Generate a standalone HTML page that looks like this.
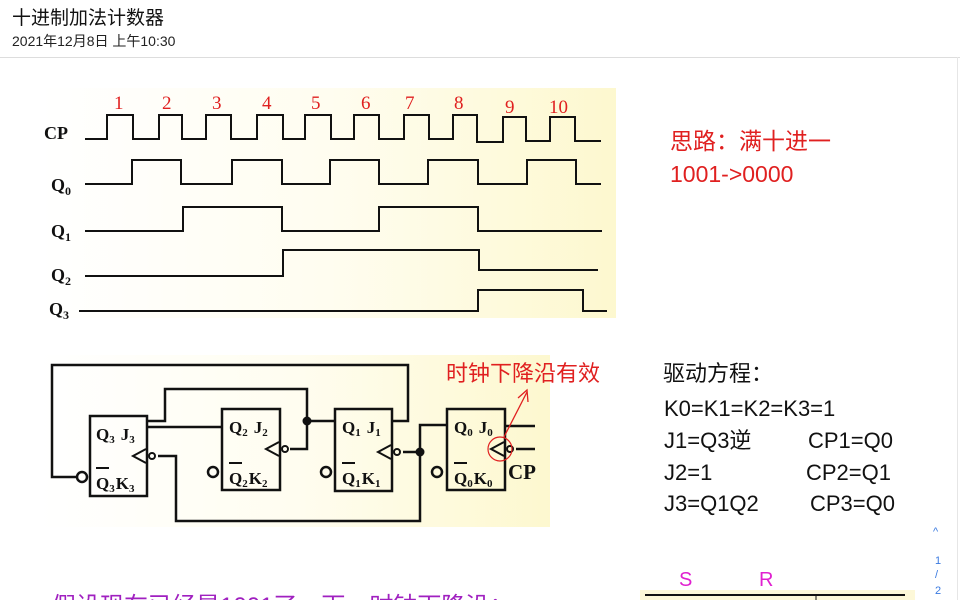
<!DOCTYPE html>
<html><head><meta charset="utf-8"><style>
html,body{margin:0;padding:0;background:#fff;width:960px;height:600px;overflow:hidden}
svg{display:block}
.cjk{font-family:"Liberation Sans","Noto Sans CJK SC",sans-serif}
.ser{font-family:"Liberation Serif","Noto Serif CJK SC",serif;font-weight:bold}
</style></head><body>
<svg width="960" height="600" viewBox="0 0 960 600" xmlns="http://www.w3.org/2000/svg">
<defs>
<linearGradient id="yg" x1="0" x2="1" y1="0" y2="0">
<stop offset="0" stop-color="#ffffff"/><stop offset="0.5" stop-color="#fffdf0"/><stop offset="1" stop-color="#fdf8cf"/>
</linearGradient>
</defs>
<text x="12" y="24" class="cjk" font-size="19" fill="#111">十进制加法计数器</text>
<text x="12" y="46" class="cjk" font-size="14" fill="#222">2021年12月8日 上午10:30</text>
<line x1="0" y1="57.5" x2="960" y2="57.5" stroke="#ddd"/>
<line x1="957.5" y1="57" x2="957.5" y2="600" stroke="#e6e6e6"/>

<rect x="40" y="88" width="576" height="230" fill="url(#yg)"/>
<g class="ser" font-size="18" fill="#111">
<text x="44" y="139">CP</text>
<text x="51" y="191">Q<tspan font-size="12" dy="4">0</tspan></text>
<text x="51" y="237">Q<tspan font-size="12" dy="4">1</tspan></text>
<text x="51" y="281">Q<tspan font-size="12" dy="4">2</tspan></text>
<text x="49" y="315">Q<tspan font-size="12" dy="4">3</tspan></text>
</g>
<g font-family="Liberation Serif,serif" font-size="19" fill="#e02020">
<text x="114" y="109">1</text><text x="162" y="109">2</text><text x="212" y="109">3</text><text x="262" y="109">4</text><text x="311" y="109">5</text><text x="361" y="109">6</text><text x="405" y="109">7</text><text x="454" y="109">8</text><text x="505" y="113">9</text><text x="549" y="113">10</text>
</g>
<g fill="none" stroke="#111" stroke-width="2">
<polyline points="85,139 107,139 107,115 133,115 133,139 159,139 159,115 182,115 182,139 206,139 206,115 231,115 231,139 257,139 257,115 283,115 283,139 305,139 305,115 331,115 331,139 354,139 354,115 379,115 379,139 404,139 404,115 429,115 429,139 453,139 453,115 477,115 477,142 503,142 503,117 526,117 526,141 550,141 550,117 575,117 575,141 601,141"/>
<polyline points="85,184 132,184 132,160 181,160 181,184 232,184 232,160 282,160 282,184 330,184 330,160 379,160 379,184 428,184 428,160 478,160 478,184 527,184 527,160 576,160 576,184 601,184"/>
<polyline points="85,231 183,231 183,207 282,207 282,231 379,231 379,207 478,207 478,231 602,231"/>
<polyline points="85,276 283,276 283,250 479,250 479,270 598,270"/>
<polyline points="79,311 478,311 478,290 583,290 583,311 607,311"/>
</g>

<rect x="40" y="355" width="510" height="172" fill="url(#yg)"/>
<g fill="none" stroke="#111" stroke-width="2.5">
<rect x="90" y="416" width="57" height="80"/>
<rect x="222" y="409" width="58" height="81"/>
<rect x="335" y="409" width="57" height="82"/>
<rect x="447" y="409" width="58" height="81"/>
<polyline points="392,421 408,421 408,365 52,365 52,477 77,477"/>
<polyline points="147,421 165,421 165,389 307,389 307,449 290,449"/>
<line x1="307" y1="421" x2="335" y2="421"/>
<line x1="147" y1="427" x2="222" y2="427"/>
<polyline points="158,456 176,456 176,521 420,521 420,425 447,425"/>
<line x1="403" y1="452" x2="420" y2="452"/>
<line x1="505" y1="426" x2="535" y2="426"/>
<line x1="516" y1="449" x2="535" y2="449"/>
<circle cx="82" cy="477" r="5"/><circle cx="213" cy="472" r="5"/><circle cx="326" cy="472" r="5"/><circle cx="437" cy="472" r="5"/>
</g>
<g fill="none" stroke="#111" stroke-width="2">
<polyline points="146,449 133,456 146,463"/><circle cx="152" cy="456" r="3"/>
<polyline points="279,442 266,449 279,456"/><circle cx="285" cy="449" r="3"/>
<polyline points="391,445 378,452 391,459"/><circle cx="397" cy="452" r="3"/>
<polyline points="504,442 491,449 504,456"/><circle cx="510" cy="449" r="3"/>
</g>
<circle cx="307" cy="421" r="4.5" fill="#111"/><circle cx="420" cy="452" r="4.5" fill="#111"/>
<g class="ser" font-size="17" fill="#111">
<text x="96" y="440">Q<tspan font-size="11" dy="3">3</tspan><tspan dy="-3" dx="6">J</tspan><tspan font-size="11" dy="3">3</tspan></text>
<text x="96" y="489">Q<tspan font-size="11" dy="3">3</tspan><tspan dy="-3" dx="1">K</tspan><tspan font-size="11" dy="3">3</tspan></text>
<text x="229" y="433">Q<tspan font-size="11" dy="3">2</tspan><tspan dy="-3" dx="6">J</tspan><tspan font-size="11" dy="3">2</tspan></text>
<text x="229" y="484">Q<tspan font-size="11" dy="3">2</tspan><tspan dy="-3" dx="1">K</tspan><tspan font-size="11" dy="3">2</tspan></text>
<text x="342" y="433">Q<tspan font-size="11" dy="3">1</tspan><tspan dy="-3" dx="6">J</tspan><tspan font-size="11" dy="3">1</tspan></text>
<text x="342" y="484">Q<tspan font-size="11" dy="3">1</tspan><tspan dy="-3" dx="1">K</tspan><tspan font-size="11" dy="3">1</tspan></text>
<text x="454" y="433">Q<tspan font-size="11" dy="3">0</tspan><tspan dy="-3" dx="6">J</tspan><tspan font-size="11" dy="3">0</tspan></text>
<text x="454" y="484">Q<tspan font-size="11" dy="3">0</tspan><tspan dy="-3" dx="1">K</tspan><tspan font-size="11" dy="3">0</tspan></text>
<text x="508" y="479" font-size="21">CP</text>
</g>
<g stroke="#111" stroke-width="2">
<line x1="96" y1="468" x2="109" y2="468"/><line x1="229" y1="463" x2="242" y2="463"/><line x1="342" y1="463" x2="355" y2="463"/><line x1="454" y1="463" x2="467" y2="463"/>
</g>
<circle cx="500" cy="449" r="12" fill="none" stroke="#e02020" stroke-width="1.2"/>
<line x1="504" y1="437" x2="527" y2="392" stroke="#e02020" stroke-width="1.3"/>
<polyline points="518,398 527,390 528,402" fill="none" stroke="#e02020" stroke-width="1.3"/>
<text x="446" y="381" class="cjk" font-size="22" fill="#e02020">时钟下降沿有效</text>

<g class="cjk" font-size="23" fill="#e02020">
<text x="670" y="149">思路：满十进一</text>
<text x="670" y="182">1001-&gt;0000</text>
</g>
<g class="cjk" font-size="22" fill="#111">
<text x="663" y="381">驱动方程：</text>
<text x="664" y="416">K0=K1=K2=K3=1</text>
<text x="664" y="448">J1=Q3逆</text><text x="808" y="448">CP1=Q0</text>
<text x="664" y="480">J2=1</text><text x="806" y="480">CP2=Q1</text>
<text x="664" y="511">J3=Q1Q2</text><text x="810" y="511">CP3=Q0</text>
</g>
<rect x="640" y="590" width="275" height="10" fill="#fdf8d8"/>
<line x1="645" y1="595" x2="905" y2="595" stroke="#111" stroke-width="2"/>
<line x1="816" y1="595" x2="816" y2="600" stroke="#111"/>
<text x="679" y="586" class="cjk" font-size="20" fill="#e020d0">S</text>
<text x="759" y="586" class="cjk" font-size="20" fill="#e020d0">R</text>
<text x="52" y="614" class="cjk" font-size="24" fill="#a020c0">假设现在已经是1001了，下一时钟下降沿：</text>
<g class="cjk" font-size="11" fill="#3a7ae0">
<text x="933" y="535">^</text>
<text x="935" y="564">1</text><text x="935" y="578">/</text><text x="935" y="594">2</text>
</g>
</svg>
</body></html>
